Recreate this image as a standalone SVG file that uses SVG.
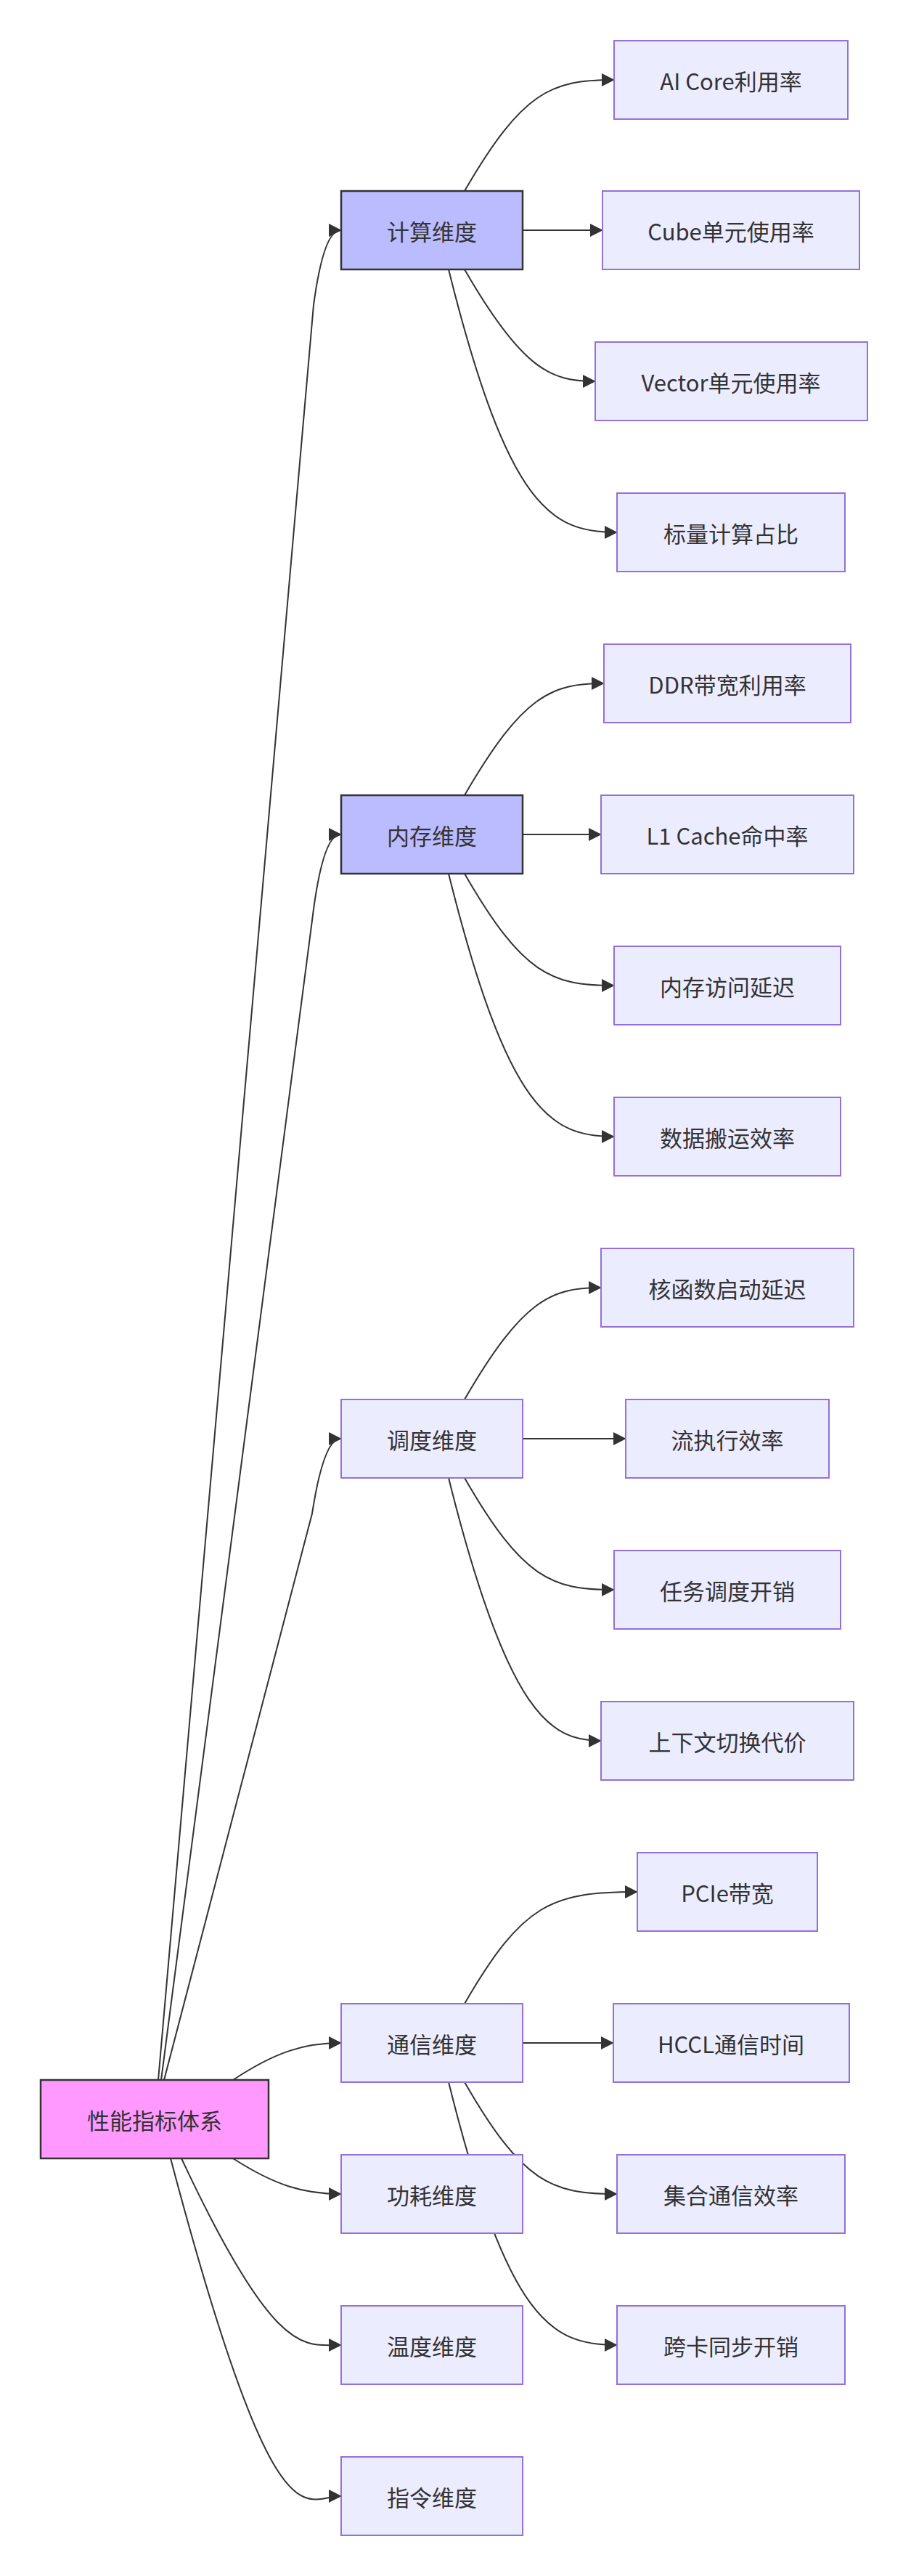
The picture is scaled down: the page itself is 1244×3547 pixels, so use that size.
<svg xmlns="http://www.w3.org/2000/svg" width="1244" height="3547" viewBox="0 0 1244 3547">
<style>
.n rect{fill:#ECECFF;stroke:#9370DB;stroke-width:2}
.m rect{fill:#bbbbff;stroke:#333;stroke-width:2.5}
.r rect{fill:#ff99ff;stroke:#333;stroke-width:2.5}
text{font-family:"Noto Sans CJK SC","Noto Sans",sans-serif;font-size:31px;fill:#333;text-anchor:middle;dominant-baseline:central}
.e path{fill:none;stroke:#333;stroke-width:2;marker-end:url(#a)}
</style>
<defs><marker id="a" viewBox="0 0 10 10" refX="9" refY="5" markerUnits="userSpaceOnUse" markerWidth="18" markerHeight="18" orient="auto"><path d="M0,0 L10,5 L0,10 z" fill="#333"/></marker></defs>
<rect width="1244" height="3547" fill="#fff"/>
<g class="e">
<path d="M218,2864 L432,420 Q446,317 469,317"/>
<path d="M222,2864 L432,1252 Q446,1149 469,1149"/>
<path d="M226,2864 L430,2084 Q446,1981 469,1981"/>
<path d="M321,2864 C380,2825 420,2813 469,2813"/>
<path d="M321,2972 C380,3010 420,3021 469,3021"/>
<path d="M250,2972 C380,3250 420,3229 469,3229"/>
<path d="M235,2972 C380,3520 420,3437 469,3437"/>
<path d="M640,263 C720,125 760,110 845,110"/>
<path d="M720,317 L829,317"/>
<path d="M640,371 C720,510 760,525 819,525"/>
<path d="M618,371 C700,700 760,733 849,733"/>
<path d="M640,1095 C720,957 760,941 831,941"/>
<path d="M720,1149 L827,1149"/>
<path d="M640,1203 C720,1342 760,1357 845,1357"/>
<path d="M618,1203 C700,1532 760,1565 845,1565"/>
<path d="M640,1927 C720,1789 760,1773 827,1773"/>
<path d="M720,1981 L861,1981"/>
<path d="M640,2035 C720,2174 760,2189 845,2189"/>
<path d="M618,2035 C700,2364 760,2397 827,2397"/>
<path d="M640,2759 C720,2621 760,2605 877,2605"/>
<path d="M720,2813 L844,2813"/>
<path d="M640,2867 C720,3006 760,3021 849,3021"/>
<path d="M618,2867 C700,3196 760,3229 849,3229"/>
</g>
<g id="root" class="r"><rect x="56" y="2864" width="314" height="108"/><text x="213" y="2918">性能指标体系</text></g>
<g id="calc" class="m"><rect x="470" y="263" width="250" height="108"/><text x="595" y="317">计算维度</text></g>
<g id="mem" class="m"><rect x="470" y="1095" width="250" height="108"/><text x="595" y="1149">内存维度</text></g>
<g id="sched" class="n"><rect x="470" y="1927" width="250" height="108"/><text x="595" y="1981">调度维度</text></g>
<g id="comm" class="n"><rect x="470" y="2759" width="250" height="108"/><text x="595" y="2813">通信维度</text></g>
<g id="power" class="n"><rect x="470" y="2967" width="250" height="108"/><text x="595" y="3021">功耗维度</text></g>
<g id="temp" class="n"><rect x="470" y="3175" width="250" height="108"/><text x="595" y="3229">温度维度</text></g>
<g id="instr" class="n"><rect x="470" y="3383" width="250" height="108"/><text x="595" y="3437">指令维度</text></g>
<g id="c1" class="n"><rect x="846" y="56" width="322" height="108"/><text x="1007" y="110">AI Core利用率</text></g>
<g id="c2" class="n"><rect x="830" y="263" width="354" height="108"/><text x="1007" y="317">Cube单元使用率</text></g>
<g id="c3" class="n"><rect x="820" y="471" width="375" height="108"/><text x="1007" y="525">Vector单元使用率</text></g>
<g id="c4" class="n"><rect x="850" y="679" width="314" height="108"/><text x="1007" y="733">标量计算占比</text></g>
<g id="m1" class="n"><rect x="832" y="887" width="340" height="108"/><text x="1002" y="941">DDR带宽利用率</text></g>
<g id="m2" class="n"><rect x="828" y="1095" width="348" height="108"/><text x="1002" y="1149">L1 Cache命中率</text></g>
<g id="m3" class="n"><rect x="846" y="1303" width="312" height="108"/><text x="1002" y="1357">内存访问延迟</text></g>
<g id="m4" class="n"><rect x="846" y="1511" width="312" height="108"/><text x="1002" y="1565">数据搬运效率</text></g>
<g id="s1" class="n"><rect x="828" y="1719" width="348" height="108"/><text x="1002" y="1773">核函数启动延迟</text></g>
<g id="s2" class="n"><rect x="862" y="1927" width="280" height="108"/><text x="1002" y="1981">流执行效率</text></g>
<g id="s3" class="n"><rect x="846" y="2135" width="312" height="108"/><text x="1002" y="2189">任务调度开销</text></g>
<g id="s4" class="n"><rect x="828" y="2343" width="348" height="108"/><text x="1002" y="2397">上下文切换代价</text></g>
<g id="t1" class="n"><rect x="878" y="2551" width="248" height="108"/><text x="1002" y="2605">PCIe带宽</text></g>
<g id="t2" class="n"><rect x="845" y="2759" width="325" height="108"/><text x="1007" y="2813">HCCL通信时间</text></g>
<g id="t3" class="n"><rect x="850" y="2967" width="314" height="108"/><text x="1007" y="3021">集合通信效率</text></g>
<g id="t4" class="n"><rect x="850" y="3175" width="314" height="108"/><text x="1007" y="3229">跨卡同步开销</text></g>
</svg>
